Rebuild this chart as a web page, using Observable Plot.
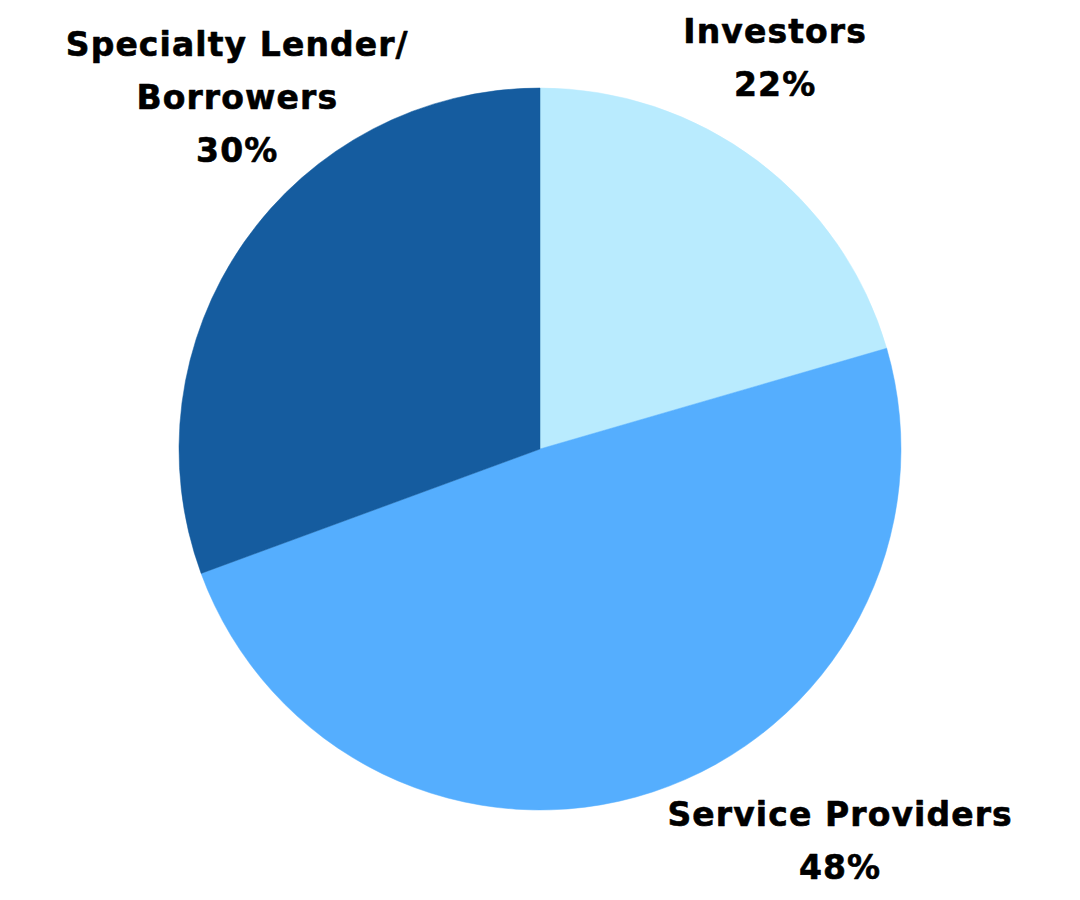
<!DOCTYPE html>
<html>
<head>
<meta charset="utf-8">
<script src="https://cdn.jsdelivr.net/npm/d3@7"></script>
<script src="https://cdn.jsdelivr.net/npm/@observablehq/plot@0.6"></script>
<style>
  html, body { margin: 0; padding: 0; background: #fff; }
  #chart { width: 1080px; height: 900px; }
</style>
</head>
<body>
<div id="chart"></div>
<script>
// ---- data ----
const categories = ["Investors", "Service Providers", "Specialty Lender/\nBorrowers"];
const shares = [20.5, 48.9, 30.6];           // slice sizes
const shareLabels = ["22%", "48%", "30%"];   // percentages printed on the chart

// ---- style / layout ----
const colors = ["#B9EBFE", "#55AEFE", "#155C9F"];
const labelPos = [[0.65, 1.10], [0.83, -1.07], [-0.84, 0.99]]; // label anchors, unit-radius coords
const fontFamily = "'DejaVu Sans', sans-serif";

const rows = categories.map((c, i) => ({
  category: c, share: shares[i], label: shareLabels[i],
  lx: labelPos[i][0], ly: labelPos[i][1]
}));

const pie = d3.pie().value(d => d.share).sort(null).startAngle(0).endAngle(2 * Math.PI);
const arcs = pie(rows);

function pieMark(index, scales) {
  const cx = scales.x(0), cy = scales.y(0);
  const r = Math.abs(scales.x(1) - scales.x(0));
  const arc = d3.arc().innerRadius(0).outerRadius(r);
  const g = d3.create("svg:g").attr("transform", `translate(${cx},${cy})`);
  g.selectAll("path").data(arcs).join("path")
    .attr("d", arc)
    .attr("fill", d => scales.color(d.data.category))
    .attr("stroke", d => scales.color(d.data.category))
    .attr("stroke-width", 0.5);
  return g.node();
}

const chart = Plot.plot({
  width: 1080,
  height: 900,
  margin: 0,
  style: { background: "#fff", fontFamily, letterSpacing: "1.1px" },
  x: { domain: [-1, 1], range: [179, 901], axis: null },
  y: { domain: [-1, 1], range: [810, 88], axis: null },
  color: { type: "ordinal", domain: categories, range: colors },
  marks: [
    Plot.dot(rows, { x: () => 0, y: () => 0, r: 0, fill: "category" }),
    pieMark,
    Plot.text(rows, {
      x: "lx", y: "ly",
      text: d => d.category + "\n" + d.label,
      fontSize: 33, fontWeight: 700, lineHeight: 1.61,
      fill: "#000", stroke: "#000", strokeWidth: 0.6,
      textAnchor: "middle"
    })
  ]
});

document.getElementById("chart").appendChild(chart);
</script>
</body>
</html>
